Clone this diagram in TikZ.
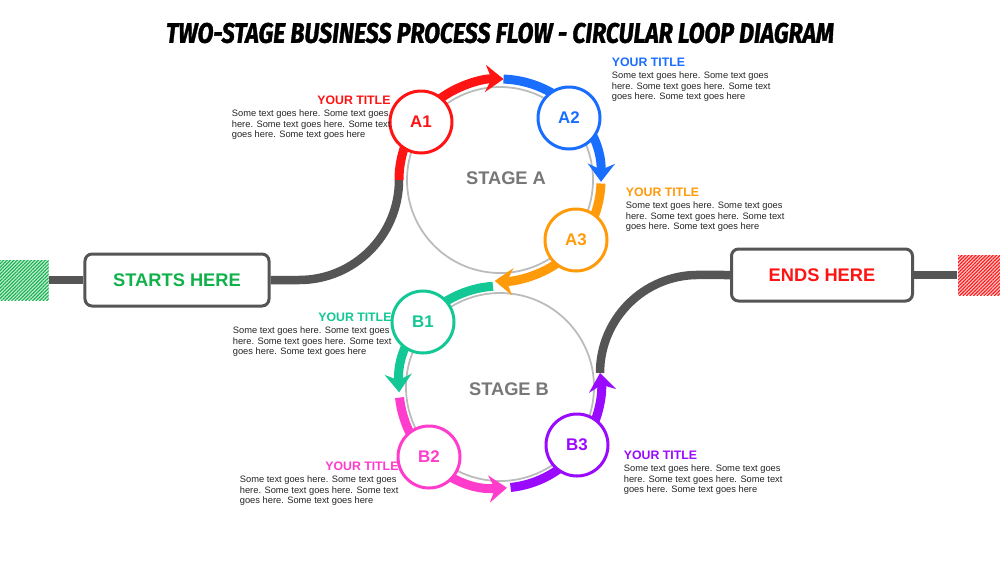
\documentclass[tikz,border=0pt]{standalone}
\usepackage{graphicx}
\usepackage{fontspec}
\setmainfont{Liberation Sans}
\newfontfamily\titlefont{Fira Sans}[BoldItalicFeatures={FakeBold=1.5}]
\usepackage{tikz}
\usetikzlibrary{%
  arrows.meta,%
  patterns.meta,% hatched end squares
  calc,%
  positioning%
}

\definecolor{cred}{HTML}{FF1414}
\definecolor{cblue}{HTML}{1A6EFF}
\definecolor{corange}{HTML}{FF9A0A}
\definecolor{cgreen}{HTML}{14C896}
\definecolor{cpink}{HTML}{FF3CCB}
\definecolor{cpurple}{HTML}{9A0AFF}
\definecolor{startgreen}{HTML}{10B14B}
\definecolor{linegray}{HTML}{555555}
\definecolor{ringgray}{HTML}{BBBBBB}
\definecolor{stagegray}{HTML}{777777}
\definecolor{textgray}{HTML}{262626}

\begin{document}
\begin{tikzpicture}[
  x=0.2mm, y=0.2mm,
  line width=1pt,
  ring/.style={draw=ringgray, line width=0.35mm},
  track/.style={draw=linegray, line width=1.7mm},
  seg/.style={line width=1.8mm, -{Stealth[length=3.6mm,width=5.4mm,inset=1.2mm]}},
  stepnode/.style={circle, draw=#1, text=#1, fill=white, line width=0.6mm,
    minimum size=12.4mm, inner sep=0pt, font=\fontsize{9.6}{10}\selectfont\bfseries},
  endbox/.style={draw=linegray, line width=0.6mm, rounded corners=1.4mm, fill=white,
    minimum height=10.4mm, inner sep=0pt, font=\fontsize{10.4}{12}\selectfont\bfseries},
  hatchbox/.style={fill=#1!25, minimum width=8.4mm, minimum height=8mm, inner sep=0pt,
    postaction={pattern={Lines[angle=45,distance=1.4pt,line width=0.6pt]}, pattern color=#1}},
  body/.style={align=left, inner sep=0pt, text=textgray, font=\fontsize{5.3}{6.05}\selectfont},
  ttl/.style={inner sep=0pt, text=#1, font=\fontsize{7}{8}\selectfont\bfseries},
  stagetxt/.style={text=stagegray, font=\fontsize{10.4}{12}\selectfont\bfseries},
]
\useasboundingbox[fill=white] (0,0) rectangle (1000,-563);

\node (title) at (500,-33) {\resizebox{133.6mm}{4mm}{\titlefont\bfseries\itshape
  TWO-STAGE BUSINESS PROCESS FLOW - CIRCULAR LOOP DIAGRAM}};

% the two stage rings
\coordinate (cA) at (500,-180);
\coordinate (cB) at (500,-387);
\draw[ring] (cA) circle [radius=93];
\draw[ring] (cB) circle [radius=94];
\node[stagetxt] (stA) at (506,-178) {STAGE A};
\node[stagetxt] (stB) at (509,-389) {STAGE B};

% start and end
\node[hatchbox=startgreen, minimum width=9.8mm] (src) at (24,-280) {};
\node[hatchbox=cred] (snk) at (979,-275) {};
\node[endbox, minimum width=36.8mm, text=startgreen] (start) at (177,-280) {STARTS HERE};
\node[endbox, minimum width=36.2mm, text=cred] (end) at (822,-275) {ENDS HERE};

\coordinate (a0) at ($(cA)+(180:101)$);
\coordinate (b9) at ($(cB)+(8:101)$);
\draw[track] (src.east) -- (start.west);
\draw[track] (a0) arc [start angle=0, end angle=-90, radius=100] -- (start.east);
\draw[track] (b9) arc [start angle=180, end angle=90, radius=98] -- (end.west);
\draw[track] (end.east) -- (snk.west);

% coloured segments
\draw[seg, cred] (a0) arc [start angle=180, end angle=88, radius=101];
\draw[seg, cblue] ($(cA)+(88:101)$) arc [start angle=88, end angle=-1, radius=101];
\draw[seg, corange] ($(cA)+(-2:101)$) arc [start angle=-2, end angle=-93, radius=101];
\draw[seg, cgreen] ($(cB)+(94:101)$) arc [start angle=94, end angle=183, radius=101];
\draw[seg, cpink] ($(cB)+(186:101)$) arc [start angle=186, end angle=274, radius=101];
\draw[seg, cpurple] ($(cB)+(276:101)$) arc [start angle=276, end angle=368, radius=101];

\node[stepnode=cred] (A1) at (421,-122) {A1};
\node[stepnode=cblue] (A2) at (569,-118) {A2};
\node[stepnode=corange] (A3) at (576,-240) {A3};
\node[stepnode=cgreen] (B1) at (423,-322) {B1};
\node[stepnode=cpink] (B2) at (429,-457) {B2};
\node[stepnode=cpurple] (B3) at (577,-445) {B3};

% text blocks
\node[body, anchor=north west] (bA1) at (231,-109)
  {Some text goes here. Some text goes\\here. Some text goes here. Some text\\goes here. Some text goes here};
\node[ttl=cred, anchor=south east] (tA1) at ([yshift=0.8mm]bA1.north east) {YOUR TITLE};
\node[body, anchor=north west] (bA2) at (611,-71)
  {Some text goes here. Some text goes\\here. Some text goes here. Some text\\goes here. Some text goes here};
\node[ttl=cblue, anchor=south west] (tA2) at ([yshift=0.8mm]bA2.north west) {YOUR TITLE};
\node[body, anchor=north west] (bA3) at (625,-201)
  {Some text goes here. Some text goes\\here. Some text goes here. Some text\\goes here. Some text goes here};
\node[ttl=corange, anchor=south west] (tA3) at ([yshift=0.8mm]bA3.north west) {YOUR TITLE};
\node[body, anchor=north west] (bB1) at (232,-326)
  {Some text goes here. Some text goes\\here. Some text goes here. Some text\\goes here. Some text goes here};
\node[ttl=cgreen, anchor=south east] (tB1) at ([yshift=0.8mm]bB1.north east) {YOUR TITLE};
\node[body, anchor=north west] (bB2) at (239,-475)
  {Some text goes here. Some text goes\\here. Some text goes here. Some text\\goes here. Some text goes here};
\node[ttl=cpink, anchor=south east] (tB2) at ([yshift=0.8mm]bB2.north east) {YOUR TITLE};
\node[body, anchor=north west] (bB3) at (623,-464)
  {Some text goes here. Some text goes\\here. Some text goes here. Some text\\goes here. Some text goes here};
\node[ttl=cpurple, anchor=south west] (tB3) at ([yshift=0.8mm]bB3.north west) {YOUR TITLE};

\end{tikzpicture}
\end{document}
